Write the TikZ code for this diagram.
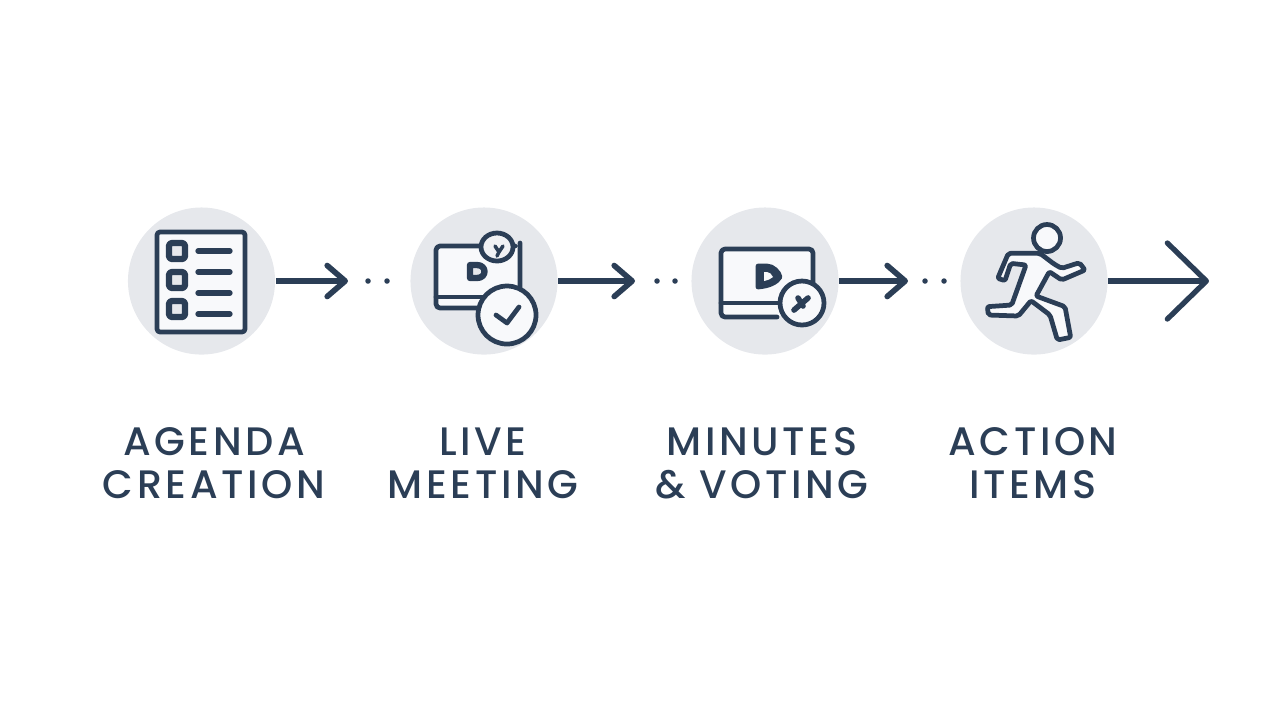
\documentclass[tikz,border=0pt]{standalone}
\usepackage{fontspec}
\setmainfont[UprightFont=* Medium,LetterSpace=9]{Poppins}
\usepackage{xcolor}
\usetikzlibrary{arrows.meta}
\definecolor{inkblue}{HTML}{2B3E56}
\definecolor{discgrey}{HTML}{E6E8EC}
\definecolor{paperwhite}{HTML}{F8F9FB}
\tikzset{
  stepdisc/.style={circle,fill=discgrey,minimum size=1.47cm,inner sep=0pt},
  flow/.style={draw=inkblue,line width=1.6pt,-{Straight Barb[length=1.8mm,width=3.1mm,round]}},
  lastflow/.style={draw=inkblue,line width=1.5pt,-{Straight Barb[length=3.9mm,width=7.6mm,round]}},
  gapdot/.style={circle,fill=inkblue,minimum size=0.055cm,inner sep=0pt},
  icon/.style={draw=inkblue,line width=1.35pt,line cap=round,line join=round},
  caption/.style={font=\fontsize{11.3pt}{12.2pt}\selectfont,text=inkblue,align=center,inner sep=0pt}
}

\begin{document}
\begin{tikzpicture}[x=0.01cm,y=-0.01cm]

  \useasboundingbox (0,0) rectangle (1280,720);

  \newcommand\Y{281}

  %% discs
  \node[stepdisc] (agenda) at (201.5,\Y) {};
  \node[stepdisc] (live) at (484,\Y) {};
  \node[stepdisc] (minutes) at (765,\Y) {};
  \node[stepdisc] (action) at (1034,\Y) {};

  %% arrows and dots
  \coordinate (agendatip) at (348,\Y);
  \coordinate (livetip) at (635,\Y);
  \coordinate (minutestip) at (908,\Y);
  \coordinate (actiontip) at (1209,\Y);

  \draw[flow] (agenda) -- (agendatip);
  \draw[flow] (live) -- (livetip);
  \draw[flow] (minutes) -- (minutestip);
  \draw[lastflow] (action) -- (actiontip);

  \node[gapdot] (agendadot1) at (368,\Y) {};
  \node[gapdot] (agendadot2) at (387,\Y) {};
  \node[gapdot] (livedot1) at (657,\Y) {};
  \node[gapdot] (livedot2) at (675,\Y) {};
  \node[gapdot] (minutesdot1) at (925,\Y) {};
  \node[gapdot] (minutesdot2) at (944,\Y) {};

  %% agenda icon
  \draw[icon,fill=paperwhite,rounded corners=0.3mm] (157,232) rectangle (245,332);
  \foreach \b in {243,272,301} {
    \draw[icon,line width=1.8pt,fill=discgrey,rounded corners=0.3mm] (169,\b) rectangle +(16,16);
  }
  \foreach \l in {251,272,293,314} {
    \draw[icon,line width=1.5pt] (198,\l) -- (230,\l);
  }

  %% live meeting icon
  \draw[icon,fill=paperwhite,rounded corners=0.4mm] (520,243) -- (520,308) -- (436,308) -- (436,246) -- (515,246);
  \draw[icon] (436,297) -- (490,297);
  \draw[icon,fill=discgrey!60] (497,247) ellipse (16 and 14);
  \draw[icon,line width=1pt] (495,246) -- (499,252) -- (503,246) (499,252) -- (497,256);
  \draw[icon,line width=1.8pt,fill=discgrey] (470,265) -- (477,265) .. controls (487,265) and (487,278) .. (477,278) -- (470,278) -- cycle;
  \draw[icon,fill=paperwhite] (507,315) circle (29);
  \draw[icon] (496,315) -- (507,323) -- (519,307);

  %% minutes icon
  \draw[icon,fill=paperwhite,rounded corners=0.4mm] (777,317) -- (721,317) -- (721,249) -- (813,249) -- (813,300);
  \draw[icon] (721,303) -- (785,303);
  \draw[icon,fill=inkblue] (758,266) -- (767,266) .. controls (773,266) and (779,272) .. (780,277) .. controls (777,282) and (770,286) .. (758,287) -- cycle;
  \fill[paperwhite] (764,272) -- (767,272) .. controls (769,272) and (772,274) .. (773,277) .. controls (771,279) and (768,280) .. (764,281) -- cycle;
  \draw[icon,fill=paperwhite] (802,303) circle (22);
  \draw[icon,line width=1.6pt] (794,310) -- (808,298) (798,298) -- (803,306);

  %% runner icon
  \draw[icon,fill=paperwhite] (1047,238) circle (13.5);
  \begin{scope}[shift={(950,200)},scale=1/3]
    \draw[icon,fill=paperwhite,rounded corners=0.2mm] (175,160) -- (270,160) -- (312,192) -- (335,205) -- (388,188)
      -- (405,210) -- (335,240) -- (298,215) -- (258,288) -- (345,320) -- (362,412) -- (322,420)
      -- (300,345) -- (243,302) -- (205,348) -- (115,345) -- (112,320) -- (185,315) -- (228,195)
      -- (182,190) -- (165,242) -- (143,235) -- cycle;
  \end{scope}

  %% captions
  \node[caption] (agendatext) at (214,463) {AGENDA\\CREATION};
  \node[caption] (livetext) at (483,463) {LIVE\\MEETING};
  \node[caption] (minutestext) at (762,463) {MINUTES\\\& VOTING};
  \node[caption] (actiontext) at (1033,463) {ACTION\\ITEMS};

\end{tikzpicture}
\end{document}
